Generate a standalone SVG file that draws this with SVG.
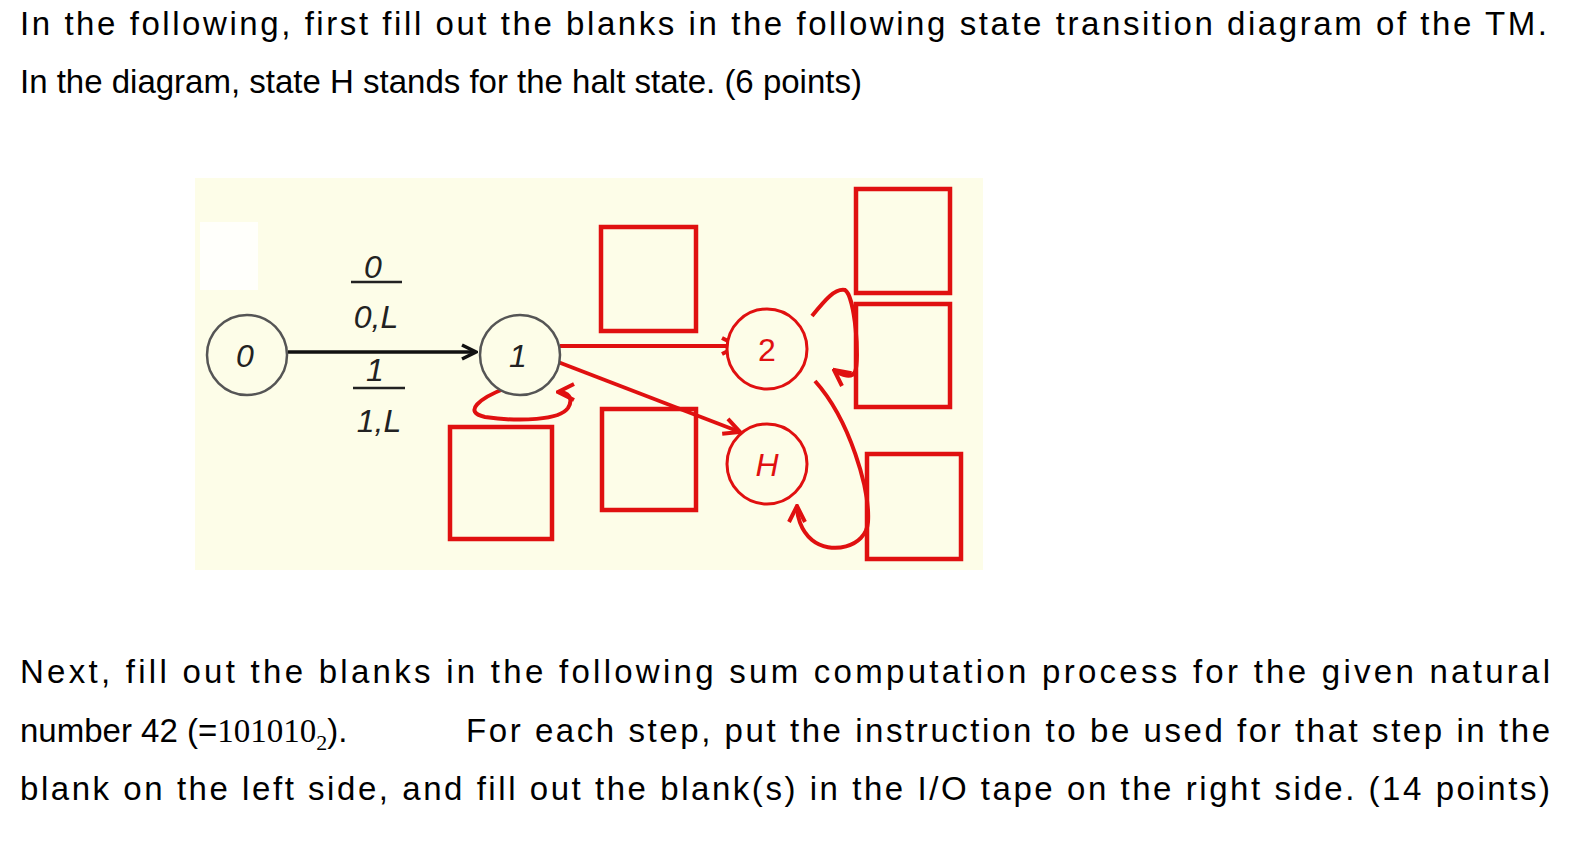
<svg xmlns="http://www.w3.org/2000/svg" width="1594" height="851" viewBox="0 0 1594 851">
<style>
.t{font-family:"Liberation Sans",Arial,sans-serif;font-size:33px;fill:#000}
.lb{font-family:"Liberation Sans",Arial,sans-serif;font-size:32px;font-style:italic;fill:#222}
.nb{fill:#fdfde8;stroke:#555;stroke-width:2.5}
.nr{fill:#fdfde8;stroke:#e01010;stroke-width:3}
.bx{fill:none;stroke:#e01010;stroke-width:4.5}
.e{fill:none;stroke:#e01010;stroke-width:4}
</style>
<defs>
<marker id="ab" viewBox="0 0 10 10" refX="9" refY="5" markerWidth="5" markerHeight="5" orient="auto"><path d="M1,1 L9,5 L1,9" fill="none" stroke="#111" stroke-width="2"/></marker>
<marker id="ar" viewBox="0 0 10 10" refX="9" refY="5" markerWidth="5" markerHeight="5" orient="auto"><path d="M1,1 L9,5 L1,9" fill="none" stroke="#e01010" stroke-width="2"/></marker>
</defs>
<rect width="1594" height="851" fill="#fff"/>
<text class="t" x="20" y="35" textLength="1527" lengthAdjust="spacing">In the following, first fill out the blanks in the following state transition diagram of the TM.</text>
<text class="t" x="20" y="93">In the diagram, state H stands for the halt state. (6 points)</text>
<rect x="195" y="178" width="788" height="392" fill="#fdfde8"/>
<rect x="200" y="222" width="58" height="68" fill="#fff" opacity="0.8"/>
<g id="connectors">
<line x1="288" y1="352" x2="476" y2="352" stroke="#111" stroke-width="3.5" marker-end="url(#ab)"/>
<line class="e" x1="560" y1="346" x2="738" y2="346" marker-end="url(#ar)"/>
<line class="e" x1="558" y1="362" x2="740" y2="432" marker-end="url(#ar)"/>
<path class="e" d="M506,388 C480,398 462,412 485,417 C520,422 560,420 568,408 C574,398 568,392 558,392" marker-end="url(#ar)"/>
<path class="e" d="M812,316 C825,300 835,288 845,290 C855,296 860,360 855,372 C852,378 842,376 834,370" marker-end="url(#ar)"/>
<path class="e" d="M815,381 C850,420 870,490 868,522 C866,548 830,555 812,540 C800,530 797,515 797,506" marker-end="url(#ar)"/>
<line x1="351" y1="282" x2="402" y2="282" stroke="#222" stroke-width="2.5"/>
<line x1="353" y1="388" x2="405" y2="388" stroke="#222" stroke-width="2.5"/>
</g>
<g id="labels">
<text class="lb" x="373" y="278" text-anchor="middle">0</text>
<text class="lb" x="376" y="328" text-anchor="middle">0,L</text>
<text class="lb" x="375" y="381" text-anchor="middle">1</text>
<text class="lb" x="379" y="432" text-anchor="middle">1,L</text>
</g>
<g id="node0"><circle class="nb" cx="247" cy="355" r="40"/><text class="lb" x="245" y="367" text-anchor="middle">0</text></g>
<g id="node1"><circle class="nb" cx="520" cy="355" r="40"/><text class="lb" x="518" y="367" text-anchor="middle">1</text></g>
<g id="node2"><circle class="nr" cx="767" cy="349" r="40"/><text x="767" y="361" text-anchor="middle" font-family="Liberation Sans,Arial,sans-serif" font-size="32" fill="#e01010">2</text></g>
<g id="nodeH"><circle class="nr" cx="767" cy="464" r="40"/><text x="767" y="476" text-anchor="middle" font-family="Liberation Sans,Arial,sans-serif" font-size="32" font-style="italic" fill="#e01010">H</text></g>
<g id="blanks">
<rect class="bx" x="601" y="227" width="95" height="104"/>
<rect class="bx" x="856" y="189" width="94" height="104"/>
<rect class="bx" x="856" y="304" width="94" height="103"/>
<rect class="bx" x="450" y="427" width="102" height="112"/>
<rect class="bx" x="602" y="409" width="94" height="101"/>
<rect class="bx" x="867" y="454" width="94" height="105"/>
</g>
<text class="t" x="20" y="683" textLength="1530" lengthAdjust="spacing">Next, fill out the blanks in the following sum computation process for the given natural</text>
<text class="t" x="20" y="742">number 42 (=<tspan font-family="Liberation Serif,serif">101010</tspan><tspan font-family="Liberation Serif,serif" font-size="22" dy="8">2</tspan><tspan dy="-8">).</tspan></text>
<text class="t" x="466" y="742" textLength="1084" lengthAdjust="spacing">For each step, put the instruction to be used for that step in the</text>
<text class="t" x="20" y="800" textLength="1530" lengthAdjust="spacing">blank on the left side, and fill out the blank(s) in the I/O tape on the right side. (14 points)</text>
</svg>
